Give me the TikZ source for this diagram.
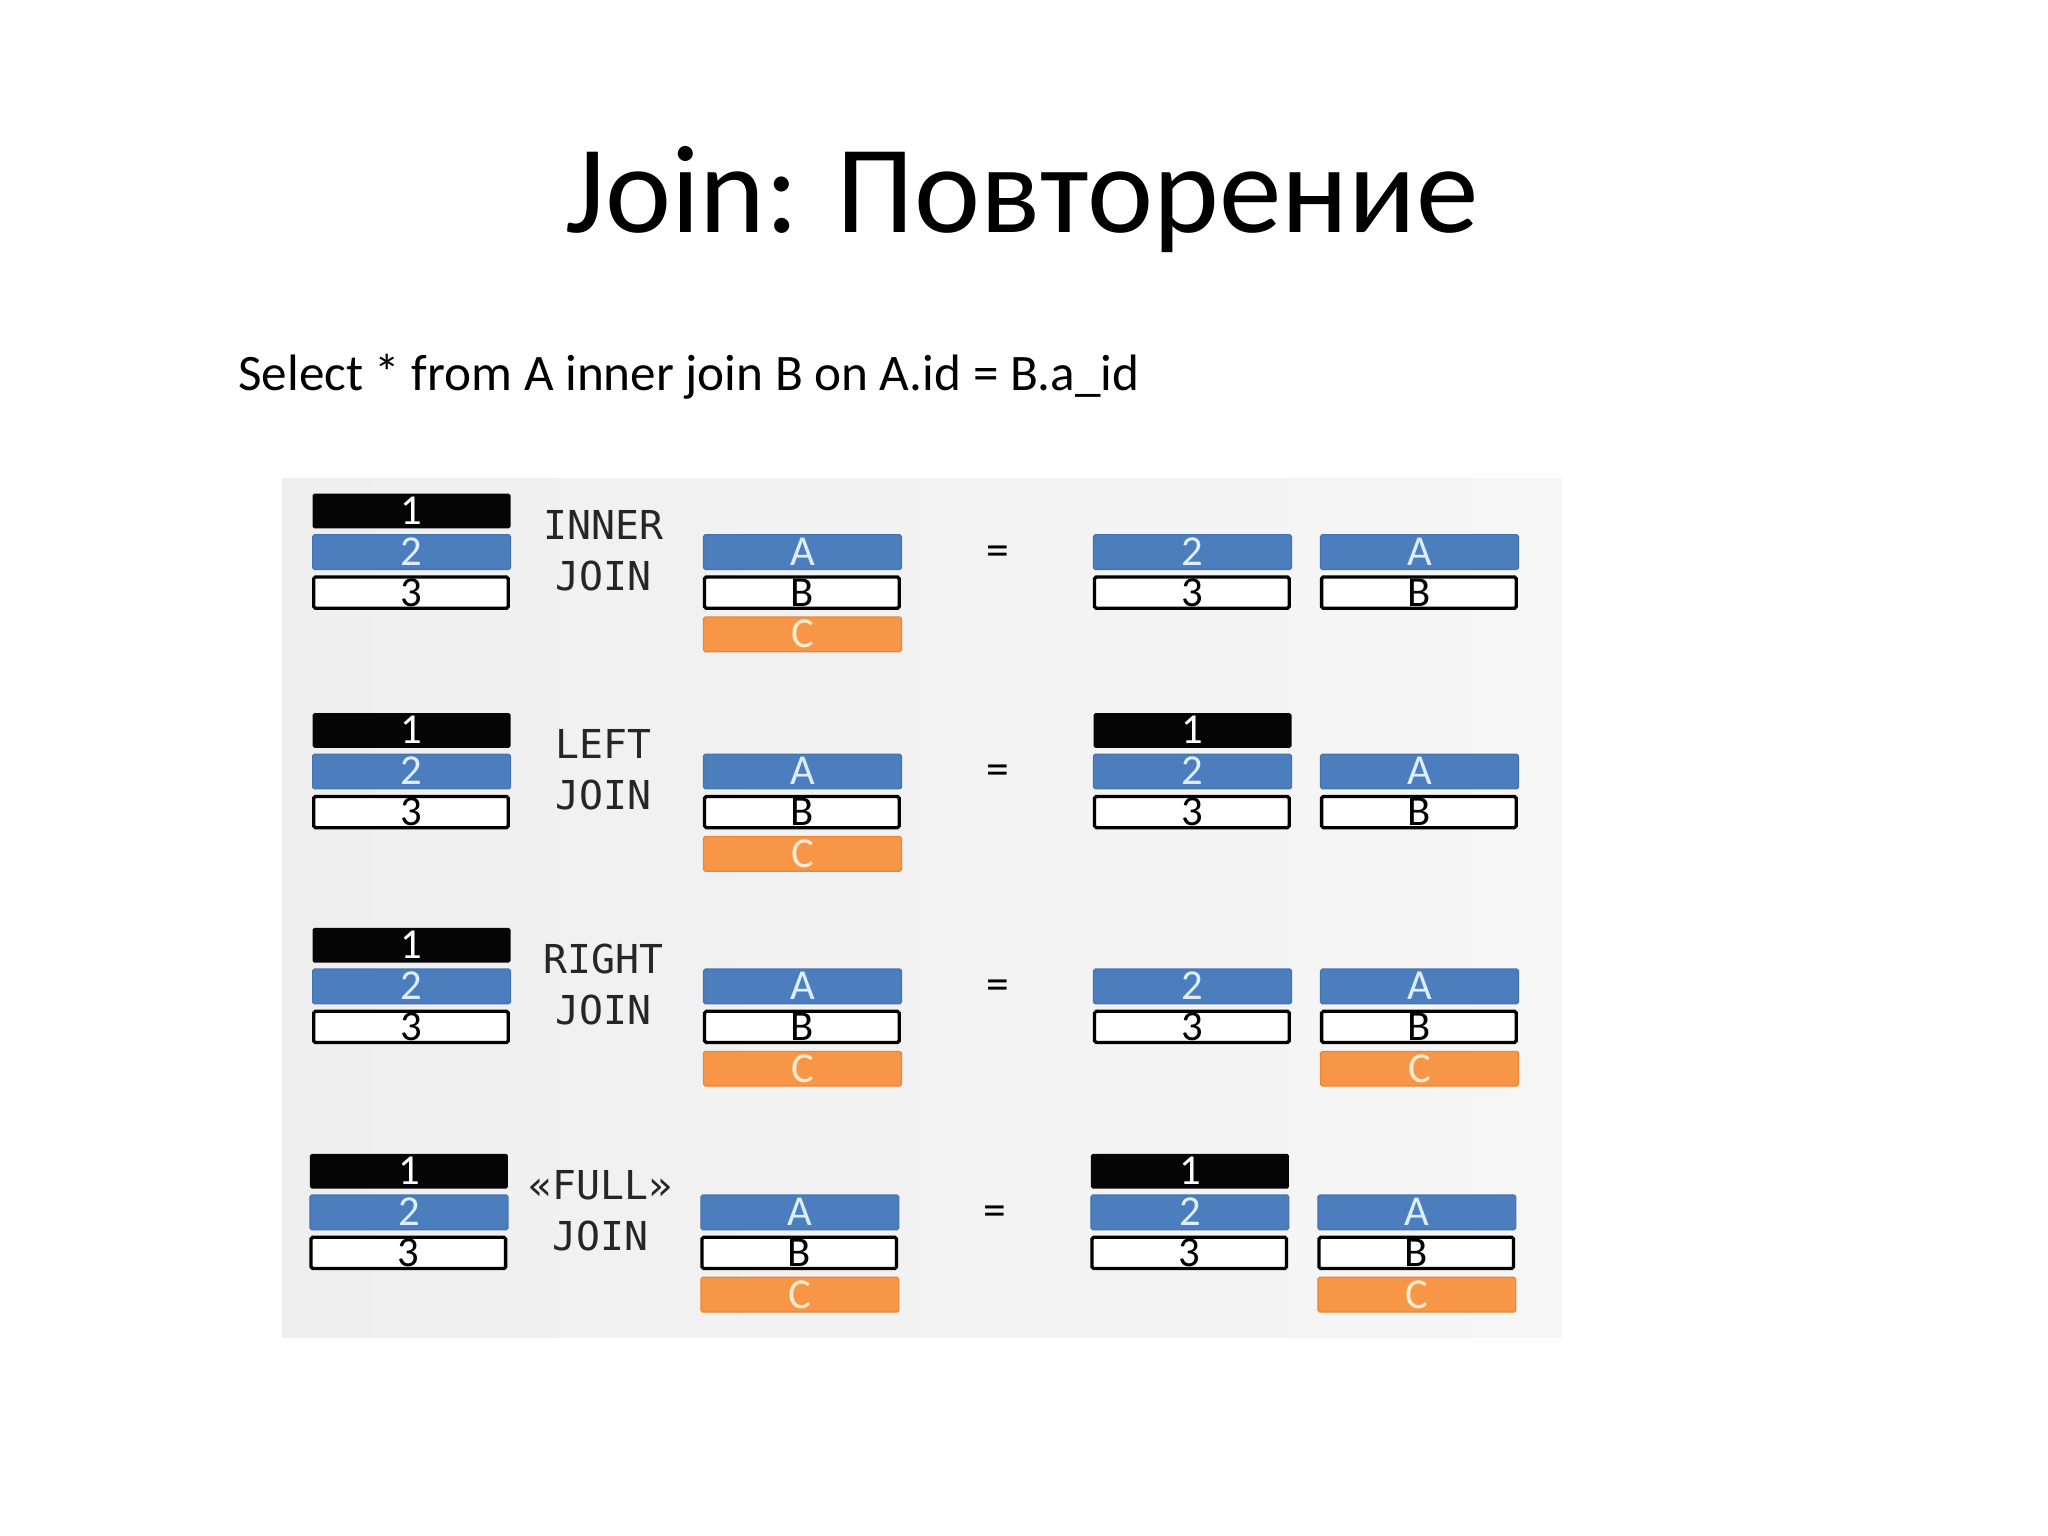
\documentclass[tikz,border=0pt]{standalone}
\usepackage{fontspec}
\setmainfont{Carlito}
\newfontfamily\monofont{DejaVu Sans Mono}
\definecolor{barblue}{HTML}{4C7EBE}
\definecolor{barblueedge}{HTML}{4474B0}
\definecolor{bluetext}{HTML}{DCEEFF}
\definecolor{barorange}{HTML}{F79646}
\definecolor{barorangeedge}{HTML}{E8863A}
\definecolor{orangetext}{HTML}{FDEBD2}
\definecolor{barblack}{HTML}{050505}
\definecolor{panelL}{HTML}{EFEFEF}
\definecolor{panelR}{HTML}{F6F6F6}
\definecolor{lbltext}{HTML}{262626}
\begin{document}
\begin{tikzpicture}[x=0.45918pt,y=-0.45918pt,
  barbase/.style={rectangle, inner sep=0pt, anchor=north west,
    font=\fontsize{15pt}{18pt}\selectfont, rounded corners=0.6pt,
    minimum width=69.6pt, minimum height=12.2pt,
    text height=10.8pt, text depth=1.4pt},
  blackbar/.style={barbase, fill=barblack, text=white},
  bluebar/.style={barbase, fill=barblue, draw=barblueedge, line width=0.4pt, text=bluetext},
  orangebar/.style={barbase, fill=barorange, draw=barorangeedge, line width=0.4pt, text=orangetext},
  whitebar/.style={barbase, fill=white, draw=black, line width=1.15pt,
    minimum width=68.4pt, minimum height=11.0pt, text height=10.2pt, text depth=0.8pt},
  lbl/.style={anchor=base, inner sep=0pt, text=lbltext, font=\monofont\fontsize{14pt}{16pt}\selectfont},
  eqsign/.style={anchor=center, inner sep=0pt, text=black, font=\fontsize{16pt}{18pt}\selectfont}]
\useasboundingbox (0,0) rectangle (1568,1176);
\fill[white] (0,0) rectangle (1568,1176);
\node[anchor=base, inner sep=0pt, font=\fontsize{44pt}{50pt}\selectfont] (title) at (782.5,178) {Join: Повторение};
\node[anchor=base west, inner sep=0pt, font=\fontsize{18pt}{22pt}\selectfont] (query) at (182,299) {Select * from A inner join B on A.id = B.a\_id};
\shade[left color=panelL, right color=panelR] (216,366) rectangle (1196,1024);
% Row 1: INNER JOIN
\begin{scope}[shift={(0,377.5)}]
\node[blackbar] (r1l1) at (238.9,0) {1};
\node[bluebar] (r1l2) at (238.9,31.5) {2};
\node[whitebar] (r1l3) at (238.9,63) {3};
\node[lbl] (r1t1) at (462,35.5) {INNER};
\node[lbl] (r1t2) at (462,74.5) {JOIN};
\node[bluebar] (r1mA) at (538.2,31.5) {A};
\node[whitebar] (r1mB) at (538.2,63) {B};
\node[orangebar] (r1mC) at (538.2,94.5) {C};
\node[eqsign] (r1eq) at (764,48) {=};
\node[bluebar] (r1r2) at (836.8,31.5) {2};
\node[whitebar] (r1r3) at (836.8,63) {3};
\node[bluebar] (r1rA) at (1010.6,31.5) {A};
\node[whitebar] (r1rB) at (1010.6,63) {B};
\end{scope}
% Row 2: LEFT JOIN
\begin{scope}[shift={(0,545.5)}]
\node[blackbar] (r2l1) at (238.9,0) {1};
\node[bluebar] (r2l2) at (238.9,31.5) {2};
\node[whitebar] (r2l3) at (238.9,63) {3};
\node[lbl] (r2t1) at (462,35.5) {LEFT};
\node[lbl] (r2t2) at (462,74.5) {JOIN};
\node[bluebar] (r2mA) at (538.2,31.5) {A};
\node[whitebar] (r2mB) at (538.2,63) {B};
\node[orangebar] (r2mC) at (538.2,94.5) {C};
\node[eqsign] (r2eq) at (764,48) {=};
\node[blackbar] (r2r1) at (836.8,0) {1};
\node[bluebar] (r2r2) at (836.8,31.5) {2};
\node[whitebar] (r2r3) at (836.8,63) {3};
\node[bluebar] (r2rA) at (1010.6,31.5) {A};
\node[whitebar] (r2rB) at (1010.6,63) {B};
\end{scope}
% Row 3: RIGHT JOIN
\begin{scope}[shift={(0,710)}]
\node[blackbar] (r3l1) at (238.9,0) {1};
\node[bluebar] (r3l2) at (238.9,31.5) {2};
\node[whitebar] (r3l3) at (238.9,63) {3};
\node[lbl] (r3t1) at (462,35.5) {RIGHT};
\node[lbl] (r3t2) at (462,74.5) {JOIN};
\node[bluebar] (r3mA) at (538.2,31.5) {A};
\node[whitebar] (r3mB) at (538.2,63) {B};
\node[orangebar] (r3mC) at (538.2,94.5) {C};
\node[eqsign] (r3eq) at (764,48) {=};
\node[bluebar] (r3r2) at (836.8,31.5) {2};
\node[whitebar] (r3r3) at (836.8,63) {3};
\node[bluebar] (r3rA) at (1010.6,31.5) {A};
\node[whitebar] (r3rB) at (1010.6,63) {B};
\node[orangebar] (r3rC) at (1010.6,94.5) {C};
\end{scope}
% Row 4: FULL JOIN
\begin{scope}[shift={(-2,883)}]
\node[blackbar] (r4l1) at (238.9,0) {1};
\node[bluebar] (r4l2) at (238.9,31.5) {2};
\node[whitebar] (r4l3) at (238.9,63) {3};
\node[lbl] (r4t1) at (462,35.5) {«FULL»};
\node[lbl] (r4t2) at (462,74.5) {JOIN};
\node[bluebar] (r4mA) at (538.2,31.5) {A};
\node[whitebar] (r4mB) at (538.2,63) {B};
\node[orangebar] (r4mC) at (538.2,94.5) {C};
\node[eqsign] (r4eq) at (764,48) {=};
\node[blackbar] (r4r1) at (836.8,0) {1};
\node[bluebar] (r4r2) at (836.8,31.5) {2};
\node[whitebar] (r4r3) at (836.8,63) {3};
\node[bluebar] (r4rA) at (1010.6,31.5) {A};
\node[whitebar] (r4rB) at (1010.6,63) {B};
\node[orangebar] (r4rC) at (1010.6,94.5) {C};
\end{scope}
\end{tikzpicture}
\end{document}
